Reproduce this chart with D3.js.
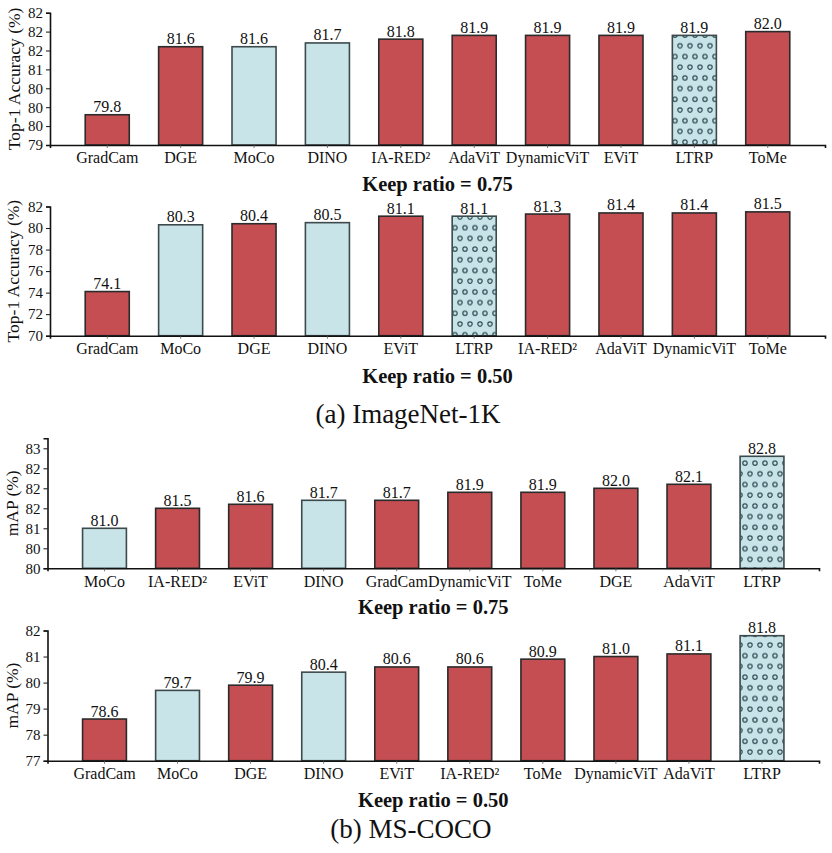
<!DOCTYPE html>
<html><head><meta charset="utf-8">
<script src="https://cdn.jsdelivr.net/npm/d3@7"></script>
<style>
body{margin:0;background:#fff;}
svg{display:block;font-family:"Liberation Serif","Times New Roman",serif;}
</style></head>
<body>
<svg id="c" width="832" height="853"></svg>
<script>
// ---- data ----
const p1Cats = ["GradCam","DGE","MoCo","DINO","IA-RED²","AdaViT","DynamicViT","EViT","LTRP","ToMe"];
const p1Vals = [79.8,81.6,81.6,81.7,81.8,81.9,81.9,81.9,81.9,82.0];
const p1Ticks = [79,79.5,80,80.5,81,81.5,82,82.5];
const p1TickLabels = ["79","80","80","80","81","82","82","82"];

const p2Cats = ["GradCam","MoCo","DGE","DINO","EViT","LTRP","IA-RED²","AdaViT","DynamicViT","ToMe"];
const p2Vals = [74.1,80.3,80.4,80.5,81.1,81.1,81.3,81.4,81.4,81.5];
const p2Ticks = [70,72,74,76,78,80,82];
const p2TickLabels = ["70","72","74","76","78","80","82"];

const p3Cats = ["MoCo","IA-RED²","EViT","DINO","GradCam","DynamicViT","ToMe","DGE","AdaViT","LTRP"];
const p3Vals = [81.0,81.5,81.6,81.7,81.7,81.9,81.9,82.0,82.1,82.8];
const p3Ticks = [80,80.5,81,81.5,82,82.5,83];
const p3TickLabels = ["80","80","81","82","82","82","83"];

const p4Cats = ["GradCam","MoCo","DGE","DINO","EViT","IA-RED²","ToMe","DynamicViT","AdaViT","LTRP"];
const p4Vals = [78.6,79.7,79.9,80.4,80.6,80.6,80.9,81.0,81.1,81.8];
const p4Ticks = [77,78,79,80,81,82];
const p4TickLabels = ["77","78","79","80","81","82"];

const selfSupervised = ["MoCo","DINO"];
const ours = ["LTRP"];

// ---- style ----
const RED = "#c44e52", BLUE = "#c9e4e9", EDGE = "#2b2b2b", BEDGE = "#3d4a4c";
const SERIF = "Liberation Serif, Times New Roman, serif";

const svg = d3.select("#c");
const defs = svg.append("defs");
const pat = defs.append("pattern").attr("id","dots").attr("patternUnits","userSpaceOnUse")
  .attr("width",10).attr("height",21.4);
pat.append("rect").attr("width",10).attr("height",21.4).attr("fill",BLUE);
[[0,3],[10,3],[5,13.7]].forEach(([cx,cy])=>{
  pat.append("circle").attr("cx",cx).attr("cy",cy).attr("r",2.2)
    .attr("fill","none").attr("stroke","#2f4f55").attr("stroke-width",1.2);
});

const panels = [
  {cats:p1Cats, vals:p1Vals, ticks:p1Ticks, labels:p1TickLabels, dom:[79,82.5], x0:50, x1:825, yb:145, yt:12.7,
   ylab:"Top-1 Accuracy (%)", ylx:20, title:"Keep ratio = 0.75", ty:191},
  {cats:p2Cats, vals:p2Vals, ticks:p2Ticks, labels:p2TickLabels, dom:[70,82], x0:50, x1:825, yb:335.7, yt:206.5,
   ylab:"Top-1 Accuracy (%)", ylx:19, title:"Keep ratio = 0.50", ty:383},
  {cats:p3Cats, vals:p3Vals, ticks:p3Ticks, labels:p3TickLabels, dom:[80,83.25], x0:47.5, x1:819, yb:568.3, yt:438.3,
   ylab:"mAP (%)", ylx:18, title:"Keep ratio = 0.75", ty:614},
  {cats:p4Cats, vals:p4Vals, ticks:p4Ticks, labels:p4TickLabels, dom:[77,82], x0:47.5, x1:819, yb:760.7, yt:630.5,
   ylab:"mAP (%)", ylx:18, title:"Keep ratio = 0.50", ty:807}
];

panels.forEach(p=>{
  const g = svg.append("g");
  const x = d3.scaleBand().domain(p.cats).range([p.x0,p.x1]).paddingInner(0.4).paddingOuter(0.48);
  const y = d3.scaleLinear().domain(p.dom).range([p.yb,p.yt]);

  // bars
  g.selectAll("rect.bar").data(p.cats.map((c,i)=>({c,v:p.vals[i]}))).join("rect")
    .attr("x",d=>x(d.c)).attr("width",x.bandwidth())
    .attr("y",d=>y(d.v)).attr("height",d=>y(p.dom[0])-y(d.v))
    .attr("fill",d=>ours.includes(d.c)?"url(#dots)":selfSupervised.includes(d.c)?BLUE:RED)
    .attr("stroke",d=>(ours.includes(d.c)||selfSupervised.includes(d.c))?BEDGE:EDGE)
    .attr("stroke-width",1.6);

  // value labels
  g.selectAll("text.val").data(p.cats.map((c,i)=>({c,v:p.vals[i]}))).join("text")
    .attr("x",d=>x(d.c)+x.bandwidth()/2).attr("y",d=>y(d.v)-2.5)
    .attr("text-anchor","middle").attr("font-size",16).attr("fill","#111")
    .text(d=>d.v.toFixed(1));

  // x axis
  const xa = g.append("g").attr("transform",`translate(0,${p.yb})`)
    .call(d3.axisBottom(x).tickSizeOuter(0).tickSize(3).tickPadding(4));
  xa.select(".domain").attr("stroke","#111").attr("stroke-width",1.6);
  xa.selectAll(".tick line").attr("stroke","#555").attr("stroke-width",0.8);
  xa.selectAll(".tick text").attr("font-size",16).attr("fill","#111")
    .attr("font-family",SERIF);

  // y axis
  const ya = g.append("g").attr("transform",`translate(${p.x0},0)`)
    .call(d3.axisLeft(y).tickValues(p.ticks).tickFormat((d,i)=>p.labels[i]).tickSizeOuter(0).tickSize(4).tickPadding(3));
  ya.select(".domain").attr("stroke","#111").attr("stroke-width",1.6);
  ya.selectAll(".tick line").attr("stroke","#111").attr("stroke-width",1);
  ya.selectAll(".tick text").attr("font-size",15).attr("fill","#111")
    .attr("font-family",SERIF);

  // y label
  g.append("text").attr("transform",`translate(${p.ylx},${(p.yb+p.yt)/2}) rotate(-90)`)
    .attr("text-anchor","middle").attr("font-size",17.5).attr("fill","#111")
    .attr("font-family",SERIF).text(p.ylab);

  // title
  g.append("text").attr("x",(p.x0+p.x1)/2).attr("y",p.ty).attr("text-anchor","middle")
    .attr("font-size",20.5).attr("font-weight","bold").attr("fill","#111")
    .attr("font-family",SERIF).text(p.title);
});

// captions
svg.append("text").attr("x",408).attr("y",422.5).attr("text-anchor","middle")
  .attr("font-size",27).attr("fill","#111").attr("font-family",SERIF).text("(a) ImageNet-1K");
svg.append("text").attr("x",411).attr("y",838).attr("text-anchor","middle")
  .attr("font-size",27).attr("fill","#111").attr("font-family",SERIF).text("(b) MS-COCO");
</script>
</body></html>
